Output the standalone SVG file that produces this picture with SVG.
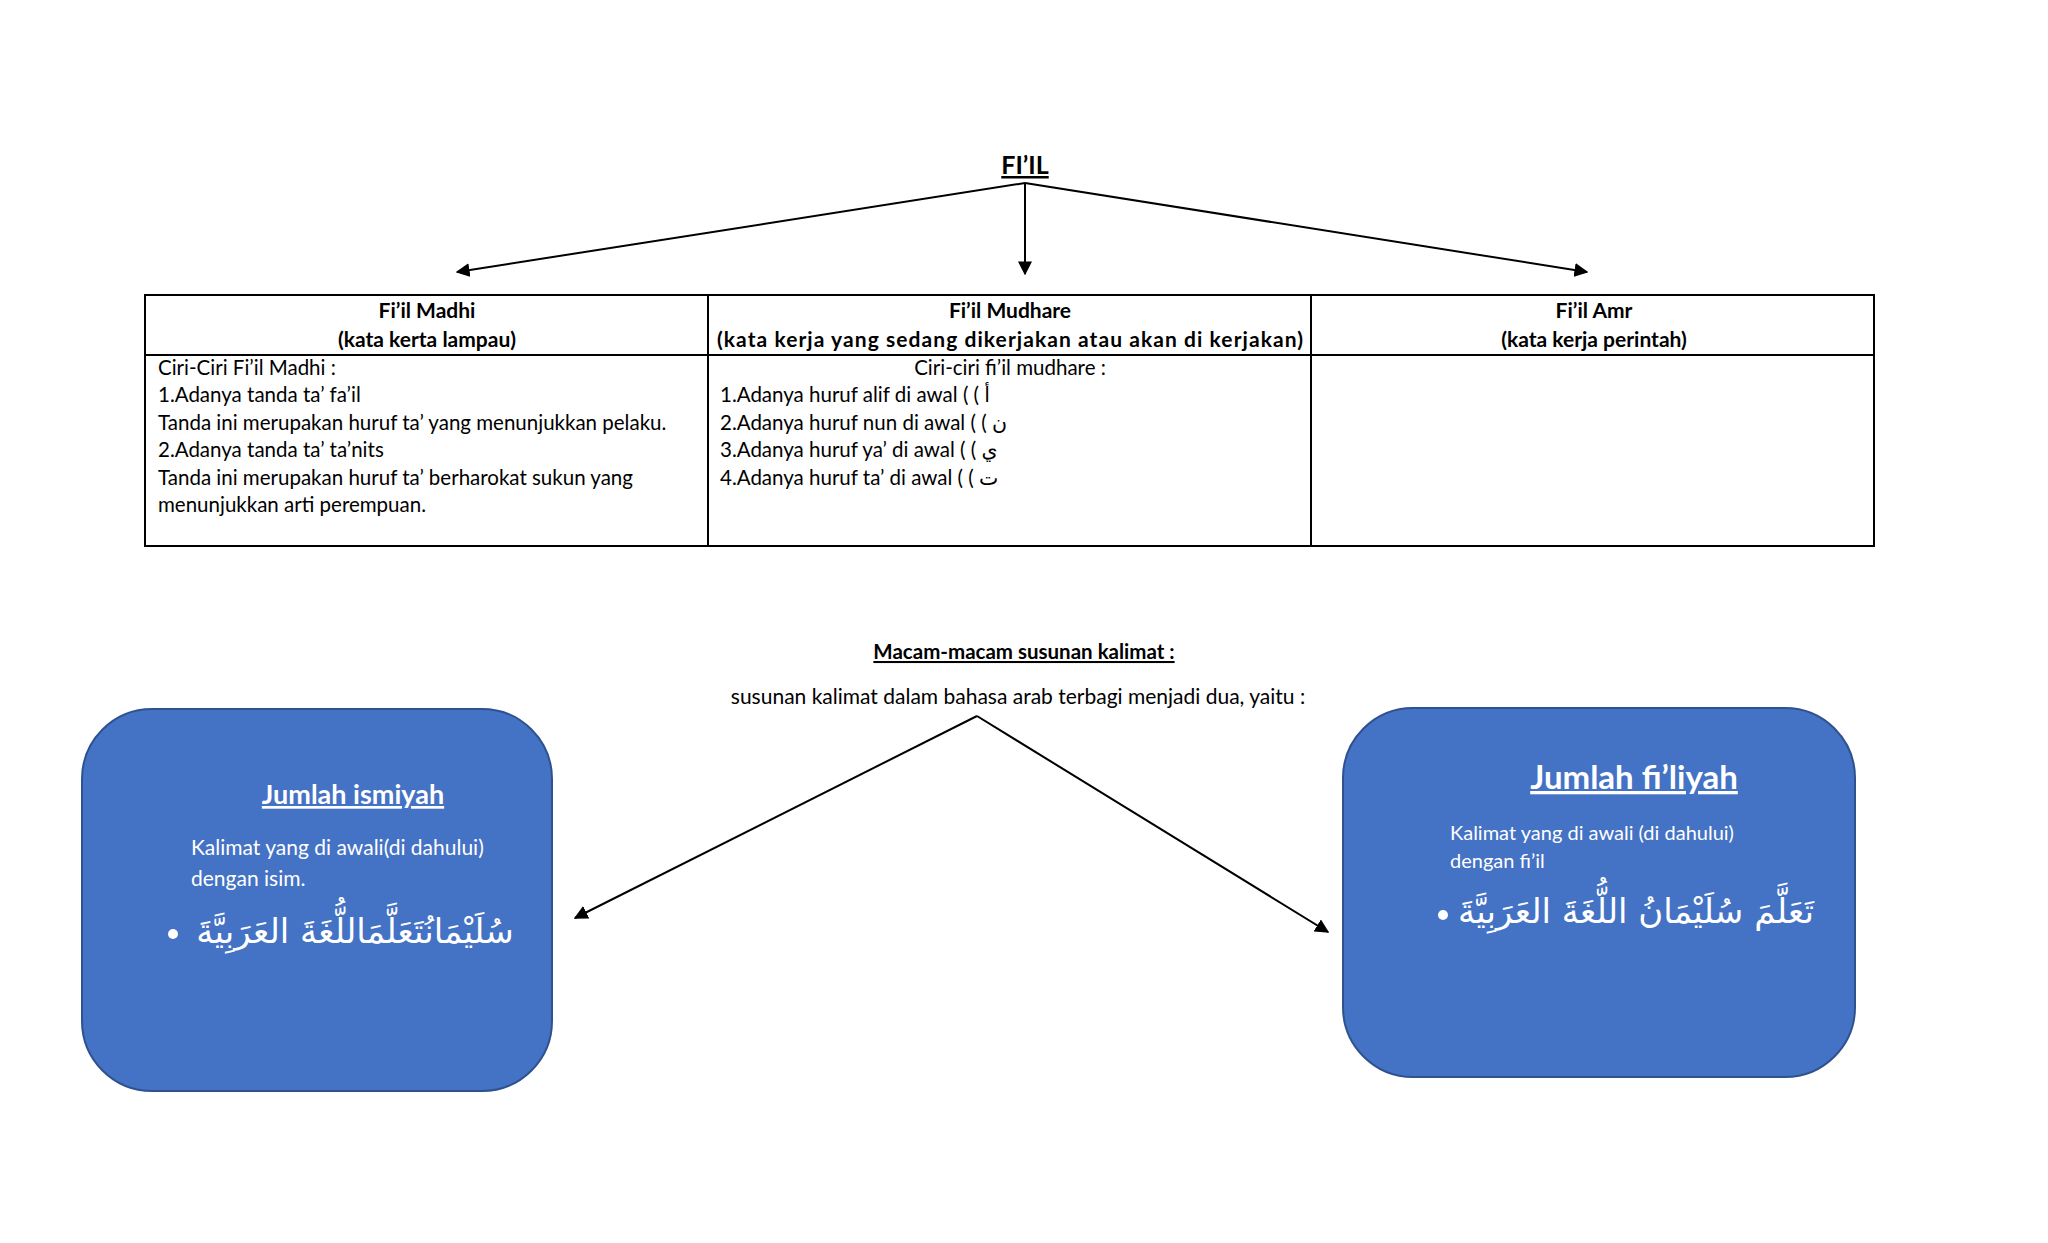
<svg xmlns="http://www.w3.org/2000/svg" width="2048" height="1243" viewBox="0 0 2048 1243">
<defs>
<marker id="ah" viewBox="0 0 10 10" refX="9" refY="5" markerWidth="7" markerHeight="7" orient="auto-start-reverse"><path d="M0,0 L10,5 L0,10 z" fill="#000"/></marker>
<style>
text{font-family:Lato,"Open Sans","DejaVu Sans",sans-serif;fill:#000}
.h{font-size:21px;font-weight:bold;text-anchor:middle}
.b{font-size:20.5px}
.w{fill:#fff}
.ar{font-family:"DejaVu Sans","Noto Sans",sans-serif;fill:#fff;font-size:34px;text-anchor:middle}
.box{fill:#4472C4;stroke:#2F528F;stroke-width:2}
.ln{stroke:#000;stroke-width:2;fill:none}
</style>
</defs>
<rect width="2048" height="1243" fill="#fff"/>
<g id="title"><text x="1025" y="174" font-size="25" font-weight="bold" text-anchor="middle" text-decoration="underline">FI’IL</text></g>
<g id="connectors">
<line class="ln" x1="1025" y1="183" x2="457" y2="272" marker-end="url(#ah)"/>
<line class="ln" x1="1025" y1="183" x2="1025" y2="274" marker-end="url(#ah)"/>
<line class="ln" x1="1025" y1="183" x2="1587" y2="272" marker-end="url(#ah)"/>
<line class="ln" stroke-width="1.5" x1="977" y1="716" x2="575" y2="918" marker-end="url(#ah)"/>
<line class="ln" stroke-width="1.5" x1="977" y1="716" x2="1328" y2="932" marker-end="url(#ah)"/>
</g>
<g id="table">
<rect x="145" y="295" width="1729" height="251" fill="none" stroke="#000" stroke-width="2"/>
<line class="ln" x1="145" y1="355" x2="1874" y2="355"/>
<line class="ln" x1="708" y1="295" x2="708" y2="546"/>
<line class="ln" x1="1311" y1="295" x2="1311" y2="546"/>
</g>
<g id="madhi">
<text class="h" x="427" y="318">Fi’il Madhi</text>
<text class="h" x="427" y="347">(kata kerta lampau)</text>
<text class="b" x="158" y="375">Ciri-Ciri Fi’il Madhi :</text>
<text class="b" x="158" y="402">1.Adanya tanda ta’ fa’il</text>
<text class="b" x="158" y="430">Tanda ini merupakan huruf ta’ yang menunjukkan pelaku.</text>
<text class="b" x="158" y="457">2.Adanya tanda ta’ ta’nits</text>
<text class="b" x="158" y="485">Tanda ini merupakan huruf ta’ berharokat sukun yang</text>
<text class="b" x="158" y="512">menunjukkan arti perempuan.</text>
</g>
<g id="mudhare">
<text class="h" x="1010" y="318">Fi’il Mudhare</text>
<text class="h" x="1010" y="347" textLength="586">(kata kerja yang sedang dikerjakan atau akan di kerjakan)</text>
<text class="b" x="1010" y="375" text-anchor="middle">Ciri-ciri fi’il mudhare :</text>
<text class="b" x="720" y="402">1.Adanya huruf alif di awal ( ( أ</text>
<text class="b" x="720" y="430">2.Adanya huruf nun di awal ( ( ن</text>
<text class="b" x="720" y="457">3.Adanya huruf ya’ di awal ( ( ي</text>
<text class="b" x="720" y="485">4.Adanya huruf ta’ di awal ( ( ت</text>
</g>
<g id="amr">
<text class="h" x="1594" y="318">Fi’il Amr</text>
<text class="h" x="1594" y="347">(kata kerja perintah)</text>
</g>
<g id="heading">
<text x="1024" y="659" font-size="20.5" font-weight="bold" text-anchor="middle" text-decoration="underline">Macam-macam susunan kalimat :</text>
<text x="1018" y="704" font-size="21" text-anchor="middle">susunan kalimat dalam bahasa arab terbagi menjadi dua, yaitu :</text>
</g>
<g id="ismiyah">
<rect class="box" x="82" y="709" width="470" height="382" rx="70"/>
<text class="w" x="353" y="804" font-size="27" font-weight="bold" text-anchor="middle" text-decoration="underline">Jumlah ismiyah</text>
<text class="w" x="191" y="855" font-size="21">Kalimat yang di awali(di dahului)</text>
<text class="w" x="191" y="886" font-size="21">dengan isim.</text>
<circle cx="173" cy="934" r="5" fill="#fff"/>
<text class="ar" x="355" y="943">سُلَيْمَانُتَعَلَّمَاللُّغَةَ العَرَبِيَّةَ</text>
</g>
<g id="filiyah">
<rect class="box" x="1343" y="708" width="512" height="369" rx="70"/>
<text class="w" x="1634" y="789" font-size="33" font-weight="bold" text-anchor="middle" text-decoration="underline">Jumlah fi’liyah</text>
<text class="w" x="1450" y="840" font-size="20">Kalimat yang di awali (di dahului)</text>
<text class="w" x="1450" y="868" font-size="20">dengan fi’il</text>
<circle cx="1443" cy="915" r="5" fill="#fff"/>
<text class="ar" x="1636" y="923">تَعَلَّمَ سُلَيْمَانُ اللُّغَةَ العَرَبِيَّةَ</text>
</g>
</svg>
